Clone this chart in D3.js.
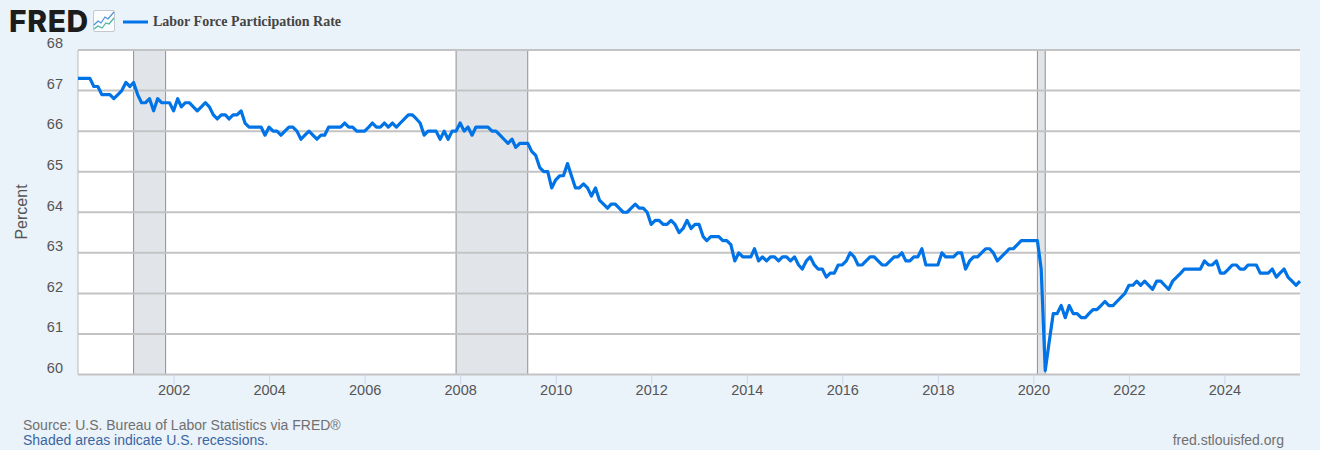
<!DOCTYPE html>
<html><head><meta charset="utf-8">
<script src="https://cdn.jsdelivr.net/npm/d3@7/dist/d3.min.js"></script>
<style>html,body{margin:0;padding:0;background:#eaf2fa}svg{display:block}</style>
</head><body><svg id="c" width="1320" height="450"></svg>
<script>
const startYear = 2000;
const rate = [
67.3,67.3,67.3,67.3,67.1,67.1,66.9,66.9,66.9,66.8,66.9,67.0,
67.2,67.1,67.2,66.9,66.7,66.7,66.8,66.5,66.8,66.7,66.7,66.7,
66.5,66.8,66.6,66.7,66.7,66.6,66.5,66.6,66.7,66.6,66.4,66.3,
66.4,66.4,66.3,66.4,66.4,66.5,66.2,66.1,66.1,66.1,66.1,65.9,
66.1,66.0,66.0,65.9,66.0,66.1,66.1,66.0,65.8,65.9,66.0,65.9,
65.8,65.9,65.9,66.1,66.1,66.1,66.1,66.2,66.1,66.1,66.0,66.0,
66.0,66.1,66.2,66.1,66.1,66.2,66.1,66.2,66.1,66.2,66.3,66.4,
66.4,66.3,66.2,65.9,66.0,66.0,66.0,65.8,66.0,65.8,66.0,66.0,
66.2,66.0,66.1,65.9,66.1,66.1,66.1,66.1,66.0,66.0,65.9,65.8,
65.7,65.8,65.6,65.7,65.7,65.7,65.5,65.4,65.1,65.0,65.0,64.6,
64.8,64.9,64.9,65.2,64.9,64.6,64.6,64.7,64.6,64.4,64.6,64.3,
64.2,64.1,64.2,64.2,64.1,64.0,64.0,64.1,64.2,64.1,64.1,64.0,
63.7,63.8,63.8,63.7,63.7,63.8,63.7,63.5,63.6,63.8,63.6,63.7,
63.7,63.4,63.3,63.4,63.4,63.4,63.3,63.3,63.2,62.8,63.0,62.9,
62.9,62.9,63.1,62.8,62.9,62.8,62.9,62.9,62.8,62.9,62.9,62.8,
62.9,62.7,62.6,62.8,62.9,62.7,62.6,62.6,62.4,62.5,62.5,62.7,
62.7,62.8,63.0,62.9,62.7,62.7,62.8,62.9,62.9,62.8,62.7,62.7,
62.8,62.9,62.9,63.0,62.8,62.8,62.9,62.9,63.1,62.7,62.7,62.7,
62.7,63.0,62.9,62.9,62.9,63.0,63.0,62.6,62.8,62.9,62.9,63.0,
63.1,63.1,63.0,62.8,62.9,63.0,63.1,63.1,63.2,63.3,63.3,63.3,
63.3,63.3,62.6,60.1,60.8,61.5,61.5,61.7,61.4,61.7,61.5,61.5,
61.4,61.4,61.5,61.6,61.6,61.7,61.8,61.7,61.7,61.8,61.9,62.0,
62.2,62.2,62.3,62.2,62.3,62.2,62.1,62.3,62.3,62.2,62.1,62.3,
62.4,62.5,62.6,62.6,62.6,62.6,62.6,62.8,62.7,62.7,62.8,62.5,
62.5,62.6,62.7,62.7,62.6,62.6,62.7,62.7,62.7,62.5,62.5,62.5,
62.6,62.4,62.5,62.6,62.4,62.3,62.2,62.3];
const recessions = [["2001-03-01","2001-11-01"],["2007-12-01","2009-06-01"],["2020-02-01","2020-04-01"]];
const yTicks = [60,61,62,63,64,65,66,67,68];
const xTickYears = [2002,2004,2006,2008,2010,2012,2014,2016,2018,2020,2022,2024];
const title = "Labor Force Participation Rate";
const yTitle = "Percent";
const source = "Source: U.S. Bureau of Labor Statistics via FRED®";
const note = "Shaded areas indicate U.S. recessions.";
const site = "fred.stlouisfed.org";

const dates = rate.map((_,i)=>new Date(startYear,i,1));
const L=78,R=1300,T=50,B=374.5;
const x=d3.scaleTime().domain([dates[0],dates[dates.length-1]]).range([L,R]);
const y=d3.scaleLinear().domain([60,68]).range([B,T]);
const svg=d3.select("#c");
const font="'Liberation Sans',Arial,sans-serif";
svg.append("rect").attr("width",1320).attr("height",450).attr("fill","#eaf2fa");
svg.append("rect").attr("x",L).attr("y",T).attr("width",R-L).attr("height",B-T).attr("fill","#fff");
// recessions
recessions.forEach(([a,b])=>{
  const x0=x(new Date(a+"T00:00:00")),x1=x(new Date(b+"T00:00:00"));
  svg.append("rect").attr("x",x0).attr("y",T).attr("width",x1-x0).attr("height",B-T).attr("fill","#e1e5ea");
  [x0,x1].forEach(v=>svg.append("line").attr("x1",v).attr("x2",v).attr("y1",T).attr("y2",B).attr("stroke","#8f8f8f").attr("stroke-width",1));
});
// grid
const yAxis=d3.axisLeft(y).tickValues(yTicks).tickSize(0).tickPadding(14);
const gy=svg.append("g").attr("transform",`translate(${L},0)`).call(yAxis);
gy.select(".domain").remove();
gy.selectAll("text").attr("font-family",font).attr("font-size",14.5).attr("fill","#555").attr("dy",0).attr("x",-15)
  .attr("transform","translate(0,-6)").attr("dominant-baseline","middle");
svg.append("g").selectAll("line").data(yTicks).join("line")
  .attr("x1",L).attr("x2",R).attr("y1",d=>y(d)).attr("y2",d=>y(d))
  .attr("stroke","#c3c3c3").attr("stroke-width",2);
svg.append("line").attr("x1",L).attr("x2",L).attr("y1",T).attr("y2",B).attr("stroke","#bbb").attr("stroke-width",1);
// x axis
const xAxis=d3.axisBottom(x).tickValues(xTickYears.map(v=>new Date(v,0,1))).tickFormat(d3.timeFormat("%Y")).tickSize(10).tickPadding(0);
const gx=svg.append("g").attr("transform",`translate(0,${B})`).call(xAxis);
gx.select(".domain").remove();
gx.selectAll("line").attr("stroke","#ccd6eb");
gx.selectAll("text").attr("font-family",font).attr("font-size",14.5).attr("fill","#555");
// line
svg.append("path").datum(rate).attr("fill","none").attr("stroke","#0073e6").attr("stroke-width",3.2).attr("stroke-linejoin","round")
  .attr("d",d3.line().x((d,i)=>x(dates[i])).y(d=>y(d)));
// y title
svg.append("text").attr("transform","translate(27,212) rotate(-90)").attr("text-anchor","middle")
  .attr("font-family",font).attr("font-size",16).attr("fill","#555").text(yTitle);
// header
svg.append("text").attr("x",9).attr("y",32).attr("font-family","Inter,'Liberation Sans',sans-serif").attr("font-weight",800).attr("font-size",30).attr("letter-spacing",0.6).attr("fill","#1c1c1c").text("FRED");
svg.append("rect").attr("x",93.5).attr("y",10.5).attr("width",21).attr("height",21).attr("rx",1.5).attr("fill","#fbfdff").attr("stroke","#c4c9cf");
svg.append("path").attr("d","M94 25 L98 21 L101 23 L105 17 L108 19 L114 12").attr("fill","none").attr("stroke","#4a90d9").attr("stroke-width",1.2);
svg.append("path").attr("d","M94 29 L98 26 L102 28 L106 23 L109 24 L114 18").attr("fill","none").attr("stroke","#49b59b").attr("stroke-width",1.2);
svg.append("line").attr("x1",123).attr("x2",148).attr("y1",22).attr("y2",22).attr("stroke","#0073e6").attr("stroke-width",3);
svg.append("text").attr("x",153).attr("y",26).attr("font-family","'Liberation Serif',serif").attr("font-weight",700).attr("font-size",14).attr("fill","#444").text(title);
// footer
svg.append("text").attr("x",23).attr("y",430).attr("font-family",font).attr("font-size",14).attr("fill","#707070").text(source);
svg.append("text").attr("x",23).attr("y",445).attr("font-family",font).attr("font-size",14).attr("fill","#3c66a0").text(note);
svg.append("text").attr("x",1284).attr("y",445).attr("text-anchor","end").attr("font-family",font).attr("font-size",14).attr("fill","#707070").text(site);
</script></body></html>
